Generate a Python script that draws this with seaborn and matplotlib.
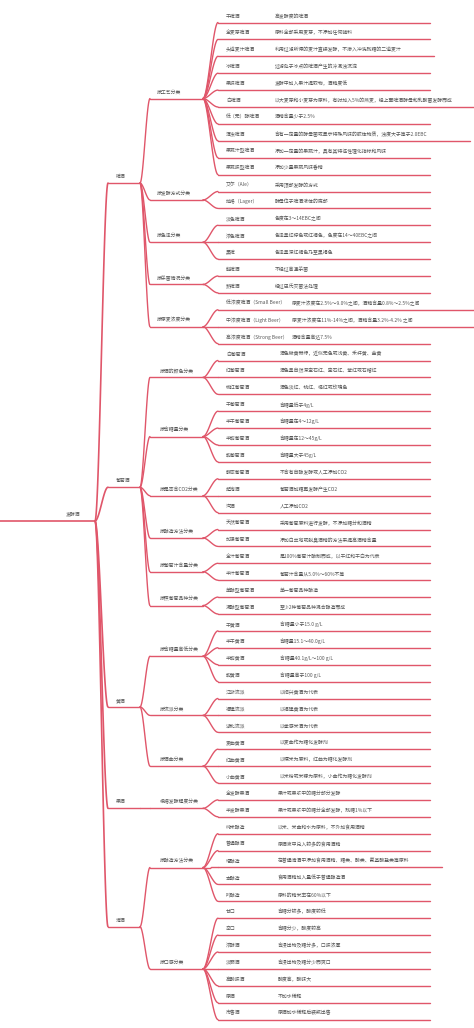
import numpy as np
import matplotlib
matplotlib.use("Agg")
import matplotlib.pyplot as plt
import seaborn as sns

sns.set_style("white")
plt.rcParams['font.family'] = ['Noto Sans CJK SC', 'DejaVu Sans']

root = "发酵酒"
level1 = ["啤酒", "葡萄酒", "黄酒", "果酒", "清酒"]
level2 = [
    ["按工艺分类", "按发酵方式分类", "按色泽分类", "按杀菌情况分类", "按原麦浓度分类"],
    ["按酒的颜色分类", "按含糖量分类", "按是否含CO2分类", "按酿造方法分类", "按葡萄汁含量分类", "按照葡萄品种分类"],
    ["按含糖量高低分类", "按流派分类", "按酒曲分类"],
    ["根据发酵程度分类"],
    ["按酿造方法分类", "按口感分类"],
]
beer_leaves = [
    ["干啤酒", "全麦芽啤酒", "头道麦汁啤酒", "冰啤酒", "果味啤酒", "白啤酒", "低（无）醇啤酒", "浑浊啤酒", "果蔬汁型啤酒", "果蔬味型啤酒"],
    ["艾尔（Ale）", "拉格（Lager）"],
    ["淡色啤酒", "浓色啤酒", "黑啤"],
    ["鲜啤酒", "熟啤酒"],
    ["低浓度啤酒（Small Beer）", "中浓度啤酒（Light Beer）", "高浓度啤酒（Strong Beer）"],
]
beer_desc = [
    ["高发酵度的啤酒", "原料全部采用麦芽，不添加任何辅料", "利用过滤所得的麦汁直接发酵，不掺入冲洗残糖的二道麦汁",
     "过滤处于冰点的啤酒产生的冷混浊沉淀", "发酵中加入果汁提取物，酒精度低",
     "以大麦芽和小麦芽为原料，有时加入5%的燕麦，经上面啤酒酵母和乳酸菌发酵而成", "酒精含量少于2.5%",
     "含有一定量的酵母菌或显示特殊风味的胶体物质，浊度大于等于2.0EBC", "添加一定量的果蔬汁，具有其特征性理化指标和风味",
     "添加少量果蔬风味香精"],
    ["采用顶部发酵的方式", "酵母位于啤酒液体的底部"],
    ["色度在3～14EBC之间", "色泽呈红棕色或红褐色，色度在14～40EBC之间", "色泽呈深红褐色乃至黑褐色"],
    ["不经过高温杀菌", "经过巴氏灭菌法处理"],
    ["原麦汁浓度在2.5%～9.0%之间，酒精含量0.8%～2.5%之间", "原麦汁浓度在11%-14%之间，酒精含量3.2%-4.2% 之间", "酒精含量高达7.5%"],
]
wine_leaves = [
    ["白葡萄酒", "红葡萄酒", "桃红葡萄酒"],
    ["干葡萄酒", "半干葡萄酒", "半甜葡萄酒", "甜葡萄酒"],
    ["静态葡萄酒", "起泡酒", "汽酒"],
    ["天然葡萄酒", "加强葡萄酒"],
    ["全汁葡萄酒", "半汁葡萄酒"],
    ["单酿型葡萄酒", "混酿型葡萄酒"],
]
wine_desc = [
    ["酒色微黄带绿，近似无色或浅黄、禾杆黄、金黄", "酒色呈自然深宝石红、宝石红、紫红或石榴红", "酒色淡红、桃红、橘红或玫瑰色"],
    ["含糖量低于4g/L", "含糖量在4～12g/L", "含糖量在12～45g/L", "含糖量大于45g/L"],
    ["不含有自酿发酵或人工添加CO2", "葡萄酒加糖再发酵产生CO2", "人工添加CO2"],
    ["采用葡萄原料进行发酵，不添加糖分和酒精", "添加白兰地或脱臭酒精的方法来提高酒精含量"],
    ["是100%葡萄汁酿制而成，以干红和干白为代表", "葡萄汁含量从5.0%～60%不等"],
    ["单一葡萄品种酿造", "至少2种葡萄品种混合酿造而成"],
]
huang_leaves = [
    ["干黄酒", "半干黄酒", "半甜黄酒", "甜黄酒"],
    ["江浙流派", "福建流派", "湖北流派"],
    ["麦曲黄酒", "红曲黄酒", "小曲黄酒"],
]
huang_desc = [
    ["含糖量小于15.0 g/L", "含糖量15.1～40.0g/L", "含糖量40.1g/L～100 g/L", "含糖量高于100 g/L"],
    ["以绍兴黄酒为代表", "以福建黄酒为代表", "以孝感米酒为代表"],
    ["以麦曲作为糖化发酵剂", "以糯米为原料，红曲为糖化发酵剂", "以米粉或米糠为原料，小曲作为糖化发酵剂"],
]
guo_leaves = [["全发酵果酒", "半发酵果酒"]]
guo_desc = [["果汁或果浆中的糖分部分发酵", "果汁或果浆中的糖分全部发酵，残糖1%以下"]]
sake_leaves = [
    ["纯米酿造", "普通酿酒", "增酿造", "本酿造", "吟酿造"],
    ["甘口", "辛口", "浓醇酒", "淡丽酒", "高酸味酒", "原酒", "市售酒"],
]
sake_desc = [
    ["以米、米曲和水为原料，不外加食用酒精", "原酒液中兑入较多的食用酒精", "在普通清酒中添加食用酒精、糖类、酸类、氨基酸盐类等原料",
     "食用酒精加入量低于普通酿造酒", "原料的精米率在60%以下"],
    ["含糖分较多，酸度较低", "含糖分少，酸度较高", "含浸出物及糖分多，口味浓厚", "含浸出物及糖分少而爽口",
     "酸度高，酸味大", "不加水稀释", "原酒加水稀释后装瓶出售"],
]

all_leaves = [beer_leaves, wine_leaves, huang_leaves, guo_leaves, sake_leaves]
all_desc = [beer_desc, wine_desc, huang_desc, guo_desc, sake_desc]
desc_x = [275, 280, 280, 278, 278]

RED = "#e0566a"
TXT = "#555555"
FS = 3.5
Y0, DY, OFF = 16, 16.9, 6.5

fig = plt.figure(figsize=(4.74, 10.28), dpi=100)
ax = fig.add_axes([0, 0, 1, 1])
ax.set_xlim(0, 474)
ax.set_ylim(1028, 0)
ax.axis("off")
fig.patch.set_facecolor("white")


def curve(x0, y0, x1, y1, lw=1.0):
    t = np.linspace(0, 1, 40)
    s = t * t * (3 - 2 * t)
    ax.plot(x0 + (x1 - x0) * t, y0 + (y1 - y0) * s, color=RED, lw=lw, solid_capstyle="round")


def hline(x0, x1, y, lw=1.0):
    ax.plot([x0, x1], [y, y], color=RED, lw=lw)


idx = 0
l1_pos = []
for i, (name, groups) in enumerate(zip(level1, level2)):
    g_pos = []
    first_leaf = idx
    for j, g in enumerate(groups):
        leaves = all_leaves[i][j]
        descs = all_desc[i][j]
        ys = [Y0 + (idx + k) * DY for k in range(len(leaves))]
        idx += len(leaves)
        gy = (ys[0] + ys[-1]) / 2
        g_pos.append(gy)
        dx = 292 if (i == 0 and j == 4) else desc_x[i]
        for ly, lf, d in zip(ys, leaves, descs):
            ax.text(226, ly, lf, fontsize=FS, color=TXT, va="center")
            ax.text(dx, ly, d, fontsize=FS, color=TXT, va="center")
            end = min(474, dx + len(d) * 4.4 + 45)
            end = max(end, 430)
            hline(218, end, ly + OFF)
            curve(203, gy + OFF, 218, ly + OFF)
        gx = 157 if i == 0 else 160
        ax.text(gx, gy, g, fontsize=FS, color=TXT, va="center")
        hline(150, 203, gy + OFF)
    ly1 = (Y0 + first_leaf * DY + Y0 + (idx - 1) * DY) / 2
    l1_pos.append(ly1)
    ax.text(116, ly1, name, fontsize=FS, color=TXT, va="center")
    hline(108, 140, ly1 + OFF)
    for gy in g_pos:
        curve(140, ly1 + OFF, 150, gy + OFF)

ry = (Y0 + Y0 + (idx - 1) * DY) / 2
ax.text(66, ry, root, fontsize=FS, color=TXT, va="center")
hline(0, 95, ry + OFF, lw=1.2)
for y in l1_pos:
    curve(95, ry + OFF, 108, y + OFF, lw=1.2)

fig.savefig("out.png", dpi=100, facecolor="white")
